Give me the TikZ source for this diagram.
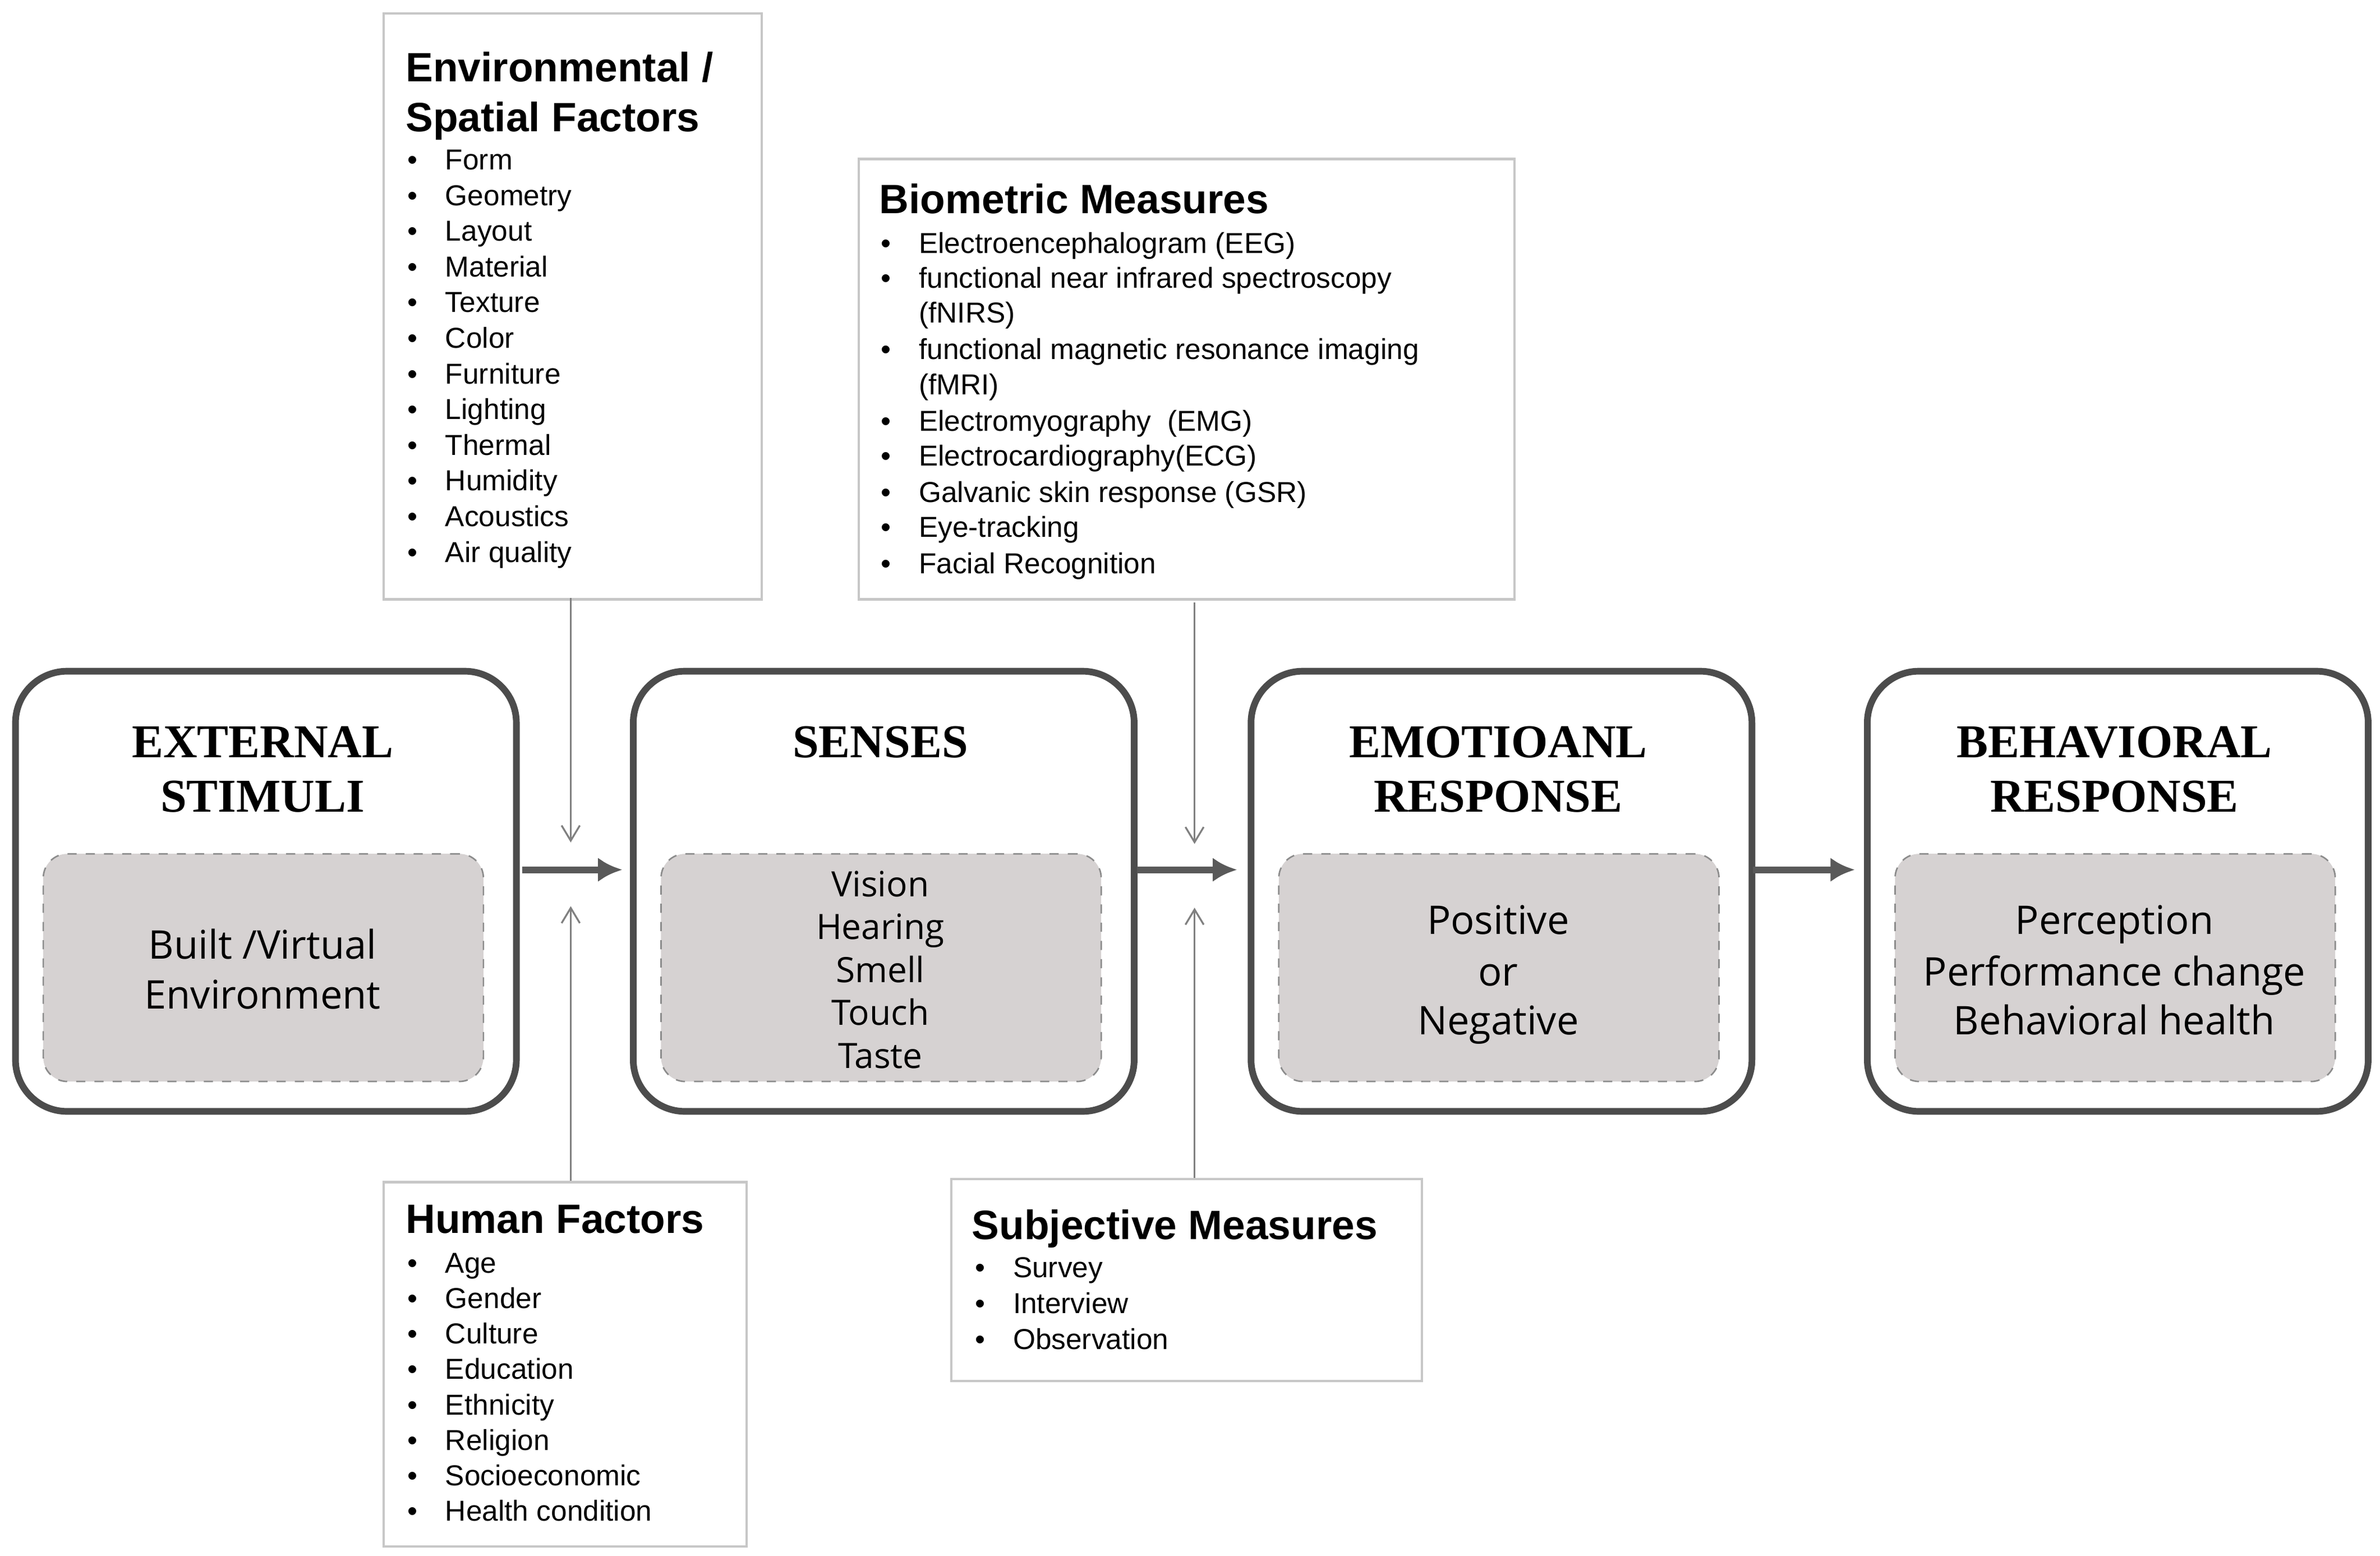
\documentclass[tikz,border=0pt]{standalone}
\usepackage{fontspec}
\usetikzlibrary{arrows.meta}
\setmainfont{Liberation Sans}
\newfontfamily\inner{Open Sans}
\newfontfamily\ttl{Liberation Serif}
\definecolor{ing}{HTML}{D6D2D2}
\begin{document}
\begin{tikzpicture}[x=0.5pt,y=-0.5pt,
  fbox/.style={draw=black!22,line width=0.8pt,fill=white,inner sep=0pt,anchor=north west},
  main/.style={draw=black!70,line width=2.2pt,rounded corners=17pt,fill=white,inner sep=0pt,anchor=north west,minimum width=165pt,minimum height=145pt},
  inbox/.style={draw=black!45,dashed,line width=0.5pt,rounded corners=8pt,fill=ing,inner sep=0pt,anchor=north west,minimum width=145pt,minimum height=75pt},
  hd/.style={anchor=base west,inner sep=0pt,yshift=-4.8pt,font=\fontsize{13.5}{15}\selectfont\bfseries},
  it/.style={anchor=base west,inner sep=0pt,yshift=-3.4pt,font=\fontsize{9.5}{11}\selectfont},
  tt/.style={anchor=base,inner sep=0pt,yshift=-5.5pt,font=\fontsize{15.5}{18}\selectfont\ttl\bfseries},
  ix/.style={anchor=base,inner sep=0pt,yshift=-4.8pt,font=\fontsize{13}{15}\selectfont\inner},
  big/.style={draw=black!65,line width=2.2pt,-{Latex[length=8pt,width=8pt]}},
  thin/.style={draw=black!50,line width=0.6pt,-{Straight Barb[length=5pt,width=6pt]}}]
\useasboundingbox (0,0) rectangle (1568,1025);
% factor boxes
\node[fbox,minimum width=124.5pt,minimum height=193pt] (env) at (252,8) {};
\node[fbox,minimum width=216pt,minimum height=145pt] (bio) at (565,104) {};
\node[fbox,minimum width=119.5pt,minimum height=120pt] (hum) at (252,778) {};
\node[fbox,minimum width=155pt,minimum height=66.5pt] (sub) at (626,776) {};
\node[hd] at (267,44) {Environmental /};
\node[hd] at (267,77) {Spatial Factors};
\foreach \t [count=\i from 0] in {Form,Geometry,Layout,Material,Texture,Color,Furniture,Lighting,Thermal,Humidity,Acoustics,Air quality}{
  \node[it] at (268,105+23.5*\i) {•};
  \node[it] at (293,105+23.5*\i) {\t};}
\node[hd] at (579,131) {Biometric Measures};
\foreach \y/\b/\t in {160/1/Electroencephalogram (EEG),183/1/functional near infrared spectroscopy,206/0/(fNIRS),230/1/functional magnetic resonance imaging,253/0/(fMRI),277/1/Electromyography\ \ (EMG),300/1/Electrocardiography(ECG),324/1/Galvanic skin response (GSR),347/1/Eye-tracking,371/1/Facial Recognition}{
  \ifnum\b=1 \node[it] at (580,\y) {•};\fi
  \node[it] at (605,\y) {\t};}
\node[hd] at (267,803) {Human Factors};
\foreach \t [count=\i from 0] in {Age,Gender,Culture,Education,Ethnicity,Religion,Socioeconomic,Health condition}{
  \node[it] at (268,832+23.3*\i) {•};
  \node[it] at (293,832+23.3*\i) {\t};}
\node[hd] at (640,807) {Subjective Measures};
\foreach \t [count=\i from 0] in {Survey,Interview,Observation}{
  \node[it] at (642,835+23.5*\i) {•};
  \node[it] at (667,835+23.5*\i) {\t};}
% main boxes
\foreach \n/\x in {ext/8,sen/415,emo/822,beh/1228}{
  \node[main] (\n) at (\x,440) {};
  \node[inbox] (\n i) at (\x+20,562) {};}
\node[tt] at (173,488) {EXTERNAL};
\node[tt] at (173,524) {STIMULI};
\node[tt] at (580,488) {SENSES};
\node[tt] at (987,488) {EMOTIOANL};
\node[tt] at (987,524) {RESPONSE};
\node[tt] at (1393,488) {BEHAVIORAL};
\node[tt] at (1393,524) {RESPONSE};
\node[ix] at (173,622) {Built /Virtual};
\node[ix] at (173,655) {Environment};
\foreach \t [count=\i from 0] in {Vision,Hearing,Smell,Touch,Taste}
  \node[ix,yshift=0.5pt,font=\fontsize{11.5}{13}\selectfont\inner] at (580,582+28.3*\i) {\t};
\node[ix] at (987,606) {Positive};
\node[ix] at (987,640) {or};
\node[ix] at (987,672) {Negative};
\node[ix] at (1393,606) {Perception};
\node[ix] at (1393,640) {Performance change};
\node[ix] at (1393,672) {Behavioral health};
% arrows
\coordinate (a1) at (344,573); \coordinate (b1) at (410,573);
\coordinate (a2) at (749,573); \coordinate (b2) at (815,573);
\coordinate (a3) at (1155,573); \coordinate (b3) at (1222,573);
\draw[big] (a1) -- (b1);
\draw[big] (a2) -- (b2);
\draw[big] (a3) -- (b3);
\coordinate (e1) at (376,394); \coordinate (e2) at (376,555);
\coordinate (h1) at (376,778); \coordinate (h2) at (376,597);
\coordinate (m1) at (787,397); \coordinate (m2) at (787,556);
\coordinate (s1) at (787,776); \coordinate (s2) at (787,598);
\draw[thin] (e1) -- (e2);
\draw[thin] (h1) -- (h2);
\draw[thin] (m1) -- (m2);
\draw[thin] (s1) -- (s2);
\end{tikzpicture}
\end{document}
